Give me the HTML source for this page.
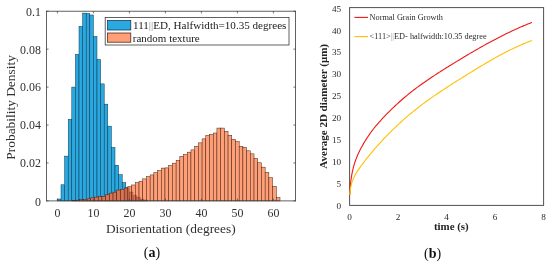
<!DOCTYPE html>
<html><head><meta charset="utf-8"><title>Figure</title>
<style>html,body{margin:0;padding:0;background:#fff;}body{width:550px;height:265px;overflow:hidden;font-family:"Liberation Serif",serif;}svg{display:block;}</style>
</head><body>
<svg width="550" height="265" viewBox="0 0 550 265">
<rect width="550" height="265" fill="#fff"/>
<g shape-rendering="auto">
<rect x="57.40" y="199.00" width="3.600" height="1.90" fill="#2aa8e0" stroke="#0a2c44" stroke-width="0.46"/>
<rect x="61.00" y="184.78" width="3.600" height="16.12" fill="#2aa8e0" stroke="#0a2c44" stroke-width="0.46"/>
<rect x="64.60" y="156.13" width="3.600" height="44.77" fill="#2aa8e0" stroke="#0a2c44" stroke-width="0.46"/>
<rect x="68.20" y="119.33" width="3.600" height="81.57" fill="#2aa8e0" stroke="#0a2c44" stroke-width="0.46"/>
<rect x="71.80" y="87.08" width="3.600" height="113.82" fill="#2aa8e0" stroke="#0a2c44" stroke-width="0.46"/>
<rect x="75.40" y="54.45" width="3.600" height="146.45" fill="#2aa8e0" stroke="#0a2c44" stroke-width="0.46"/>
<rect x="79.00" y="26.38" width="3.600" height="174.52" fill="#2aa8e0" stroke="#0a2c44" stroke-width="0.46"/>
<rect x="82.60" y="13.10" width="3.600" height="187.80" fill="#2aa8e0" stroke="#0a2c44" stroke-width="0.46"/>
<rect x="86.20" y="13.48" width="3.600" height="187.42" fill="#2aa8e0" stroke="#0a2c44" stroke-width="0.46"/>
<rect x="89.80" y="14.99" width="3.600" height="185.91" fill="#2aa8e0" stroke="#0a2c44" stroke-width="0.46"/>
<rect x="93.40" y="36.43" width="3.600" height="164.47" fill="#2aa8e0" stroke="#0a2c44" stroke-width="0.46"/>
<rect x="97.00" y="59.57" width="3.600" height="141.33" fill="#2aa8e0" stroke="#0a2c44" stroke-width="0.46"/>
<rect x="100.60" y="83.86" width="3.600" height="117.04" fill="#2aa8e0" stroke="#0a2c44" stroke-width="0.46"/>
<rect x="104.20" y="104.15" width="3.600" height="96.75" fill="#2aa8e0" stroke="#0a2c44" stroke-width="0.46"/>
<rect x="107.80" y="126.16" width="3.600" height="74.74" fill="#2aa8e0" stroke="#0a2c44" stroke-width="0.46"/>
<rect x="111.40" y="147.40" width="3.600" height="53.50" fill="#2aa8e0" stroke="#0a2c44" stroke-width="0.46"/>
<rect x="115.00" y="165.24" width="3.600" height="35.66" fill="#2aa8e0" stroke="#0a2c44" stroke-width="0.46"/>
<rect x="118.60" y="174.72" width="3.600" height="26.18" fill="#2aa8e0" stroke="#0a2c44" stroke-width="0.46"/>
<rect x="122.20" y="182.69" width="3.600" height="18.21" fill="#2aa8e0" stroke="#0a2c44" stroke-width="0.46"/>
<rect x="125.80" y="187.81" width="3.600" height="13.09" fill="#2aa8e0" stroke="#0a2c44" stroke-width="0.46"/>
<rect x="129.40" y="191.98" width="3.600" height="8.92" fill="#2aa8e0" stroke="#0a2c44" stroke-width="0.46"/>
<rect x="133.00" y="195.21" width="3.600" height="5.69" fill="#2aa8e0" stroke="#0a2c44" stroke-width="0.46"/>
<rect x="136.60" y="197.11" width="3.600" height="3.79" fill="#2aa8e0" stroke="#0a2c44" stroke-width="0.46"/>
<rect x="140.20" y="199.00" width="3.600" height="1.90" fill="#2aa8e0" stroke="#0a2c44" stroke-width="0.46"/>
<rect x="143.80" y="199.95" width="3.600" height="0.95" fill="#2aa8e0" stroke="#0a2c44" stroke-width="0.46"/>
<rect x="72.24" y="200.52" width="3.710" height="0.38" fill="#ff9f78" stroke="#3a1608" stroke-width="0.46"/>
<rect x="75.95" y="200.14" width="3.710" height="0.76" fill="#ff9f78" stroke="#3a1608" stroke-width="0.46"/>
<rect x="79.66" y="199.76" width="3.710" height="1.14" fill="#ff9f78" stroke="#3a1608" stroke-width="0.46"/>
<rect x="83.37" y="199.31" width="3.710" height="1.59" fill="#ff9f78" stroke="#3a1608" stroke-width="0.46"/>
<rect x="87.08" y="198.91" width="3.710" height="1.99" fill="#ff9f78" stroke="#3a1608" stroke-width="0.46"/>
<rect x="90.79" y="197.86" width="3.710" height="3.04" fill="#ff9f78" stroke="#3a1608" stroke-width="0.46"/>
<rect x="94.50" y="197.11" width="3.710" height="3.79" fill="#ff9f78" stroke="#3a1608" stroke-width="0.46"/>
<rect x="98.21" y="196.54" width="3.710" height="4.36" fill="#ff9f78" stroke="#3a1608" stroke-width="0.46"/>
<rect x="101.92" y="196.54" width="3.710" height="4.36" fill="#ff9f78" stroke="#3a1608" stroke-width="0.46"/>
<rect x="105.63" y="194.83" width="3.710" height="6.07" fill="#ff9f78" stroke="#3a1608" stroke-width="0.46"/>
<rect x="109.34" y="193.12" width="3.710" height="7.78" fill="#ff9f78" stroke="#3a1608" stroke-width="0.46"/>
<rect x="113.05" y="192.17" width="3.710" height="8.73" fill="#ff9f78" stroke="#3a1608" stroke-width="0.46"/>
<rect x="116.76" y="190.09" width="3.710" height="10.81" fill="#ff9f78" stroke="#3a1608" stroke-width="0.46"/>
<rect x="120.47" y="189.33" width="3.710" height="11.57" fill="#ff9f78" stroke="#3a1608" stroke-width="0.46"/>
<rect x="124.18" y="188.00" width="3.710" height="12.90" fill="#ff9f78" stroke="#3a1608" stroke-width="0.46"/>
<rect x="127.89" y="186.48" width="3.710" height="14.42" fill="#ff9f78" stroke="#3a1608" stroke-width="0.46"/>
<rect x="131.60" y="184.97" width="3.710" height="15.93" fill="#ff9f78" stroke="#3a1608" stroke-width="0.46"/>
<rect x="135.31" y="182.69" width="3.710" height="18.21" fill="#ff9f78" stroke="#3a1608" stroke-width="0.46"/>
<rect x="139.02" y="181.17" width="3.710" height="19.73" fill="#ff9f78" stroke="#3a1608" stroke-width="0.46"/>
<rect x="142.73" y="178.89" width="3.710" height="22.01" fill="#ff9f78" stroke="#3a1608" stroke-width="0.46"/>
<rect x="146.44" y="176.62" width="3.710" height="24.28" fill="#ff9f78" stroke="#3a1608" stroke-width="0.46"/>
<rect x="150.15" y="174.91" width="3.710" height="25.99" fill="#ff9f78" stroke="#3a1608" stroke-width="0.46"/>
<rect x="153.86" y="172.63" width="3.710" height="28.27" fill="#ff9f78" stroke="#3a1608" stroke-width="0.46"/>
<rect x="157.57" y="170.55" width="3.710" height="30.35" fill="#ff9f78" stroke="#3a1608" stroke-width="0.46"/>
<rect x="161.28" y="168.08" width="3.710" height="32.82" fill="#ff9f78" stroke="#3a1608" stroke-width="0.46"/>
<rect x="164.99" y="167.89" width="3.710" height="33.01" fill="#ff9f78" stroke="#3a1608" stroke-width="0.46"/>
<rect x="168.70" y="165.62" width="3.710" height="35.28" fill="#ff9f78" stroke="#3a1608" stroke-width="0.46"/>
<rect x="172.41" y="163.15" width="3.710" height="37.75" fill="#ff9f78" stroke="#3a1608" stroke-width="0.46"/>
<rect x="176.12" y="160.30" width="3.710" height="40.60" fill="#ff9f78" stroke="#3a1608" stroke-width="0.46"/>
<rect x="179.83" y="156.32" width="3.710" height="44.58" fill="#ff9f78" stroke="#3a1608" stroke-width="0.46"/>
<rect x="183.54" y="154.42" width="3.710" height="46.48" fill="#ff9f78" stroke="#3a1608" stroke-width="0.46"/>
<rect x="187.25" y="152.15" width="3.710" height="48.75" fill="#ff9f78" stroke="#3a1608" stroke-width="0.46"/>
<rect x="190.96" y="149.87" width="3.710" height="51.03" fill="#ff9f78" stroke="#3a1608" stroke-width="0.46"/>
<rect x="194.67" y="146.27" width="3.710" height="54.63" fill="#ff9f78" stroke="#3a1608" stroke-width="0.46"/>
<rect x="198.38" y="142.85" width="3.710" height="58.05" fill="#ff9f78" stroke="#3a1608" stroke-width="0.46"/>
<rect x="202.09" y="138.87" width="3.710" height="62.03" fill="#ff9f78" stroke="#3a1608" stroke-width="0.46"/>
<rect x="205.80" y="135.26" width="3.710" height="65.64" fill="#ff9f78" stroke="#3a1608" stroke-width="0.46"/>
<rect x="209.51" y="134.32" width="3.710" height="66.58" fill="#ff9f78" stroke="#3a1608" stroke-width="0.46"/>
<rect x="213.22" y="132.99" width="3.710" height="67.91" fill="#ff9f78" stroke="#3a1608" stroke-width="0.46"/>
<rect x="216.93" y="128.06" width="3.710" height="72.84" fill="#ff9f78" stroke="#3a1608" stroke-width="0.46"/>
<rect x="220.64" y="128.06" width="3.710" height="72.84" fill="#ff9f78" stroke="#3a1608" stroke-width="0.46"/>
<rect x="224.35" y="131.47" width="3.710" height="69.43" fill="#ff9f78" stroke="#3a1608" stroke-width="0.46"/>
<rect x="228.06" y="135.26" width="3.710" height="65.64" fill="#ff9f78" stroke="#3a1608" stroke-width="0.46"/>
<rect x="231.77" y="139.25" width="3.710" height="61.65" fill="#ff9f78" stroke="#3a1608" stroke-width="0.46"/>
<rect x="235.48" y="141.52" width="3.710" height="59.38" fill="#ff9f78" stroke="#3a1608" stroke-width="0.46"/>
<rect x="239.19" y="146.27" width="3.710" height="54.63" fill="#ff9f78" stroke="#3a1608" stroke-width="0.46"/>
<rect x="242.90" y="147.21" width="3.710" height="53.69" fill="#ff9f78" stroke="#3a1608" stroke-width="0.46"/>
<rect x="246.61" y="150.82" width="3.710" height="50.08" fill="#ff9f78" stroke="#3a1608" stroke-width="0.46"/>
<rect x="250.32" y="153.85" width="3.710" height="47.05" fill="#ff9f78" stroke="#3a1608" stroke-width="0.46"/>
<rect x="254.03" y="158.41" width="3.710" height="42.49" fill="#ff9f78" stroke="#3a1608" stroke-width="0.46"/>
<rect x="257.74" y="162.77" width="3.710" height="38.13" fill="#ff9f78" stroke="#3a1608" stroke-width="0.46"/>
<rect x="261.45" y="167.13" width="3.710" height="33.77" fill="#ff9f78" stroke="#3a1608" stroke-width="0.46"/>
<rect x="265.16" y="172.44" width="3.710" height="28.46" fill="#ff9f78" stroke="#3a1608" stroke-width="0.46"/>
<rect x="268.87" y="177.76" width="3.710" height="23.14" fill="#ff9f78" stroke="#3a1608" stroke-width="0.46"/>
<rect x="272.58" y="186.29" width="3.710" height="14.61" fill="#ff9f78" stroke="#3a1608" stroke-width="0.46"/>
<rect x="276.29" y="197.68" width="3.710" height="3.22" fill="#ff9f78" stroke="#3a1608" stroke-width="0.46"/>
<rect x="72.24" y="200.52" width="3.16" height="0.38" fill="rgba(130,20,0,0.31)"/>
<rect x="75.40" y="200.52" width="0.55" height="0.38" fill="rgba(130,20,0,0.31)"/>
<rect x="75.95" y="200.14" width="3.05" height="0.76" fill="rgba(130,20,0,0.31)"/>
<rect x="79.00" y="200.14" width="0.66" height="0.76" fill="rgba(130,20,0,0.31)"/>
<rect x="79.66" y="199.76" width="2.94" height="1.14" fill="rgba(130,20,0,0.31)"/>
<rect x="82.60" y="199.76" width="0.77" height="1.14" fill="rgba(130,20,0,0.31)"/>
<rect x="83.37" y="199.31" width="2.83" height="1.59" fill="rgba(130,20,0,0.31)"/>
<rect x="86.20" y="199.31" width="0.88" height="1.59" fill="rgba(130,20,0,0.31)"/>
<rect x="87.08" y="198.91" width="2.72" height="1.99" fill="rgba(130,20,0,0.31)"/>
<rect x="89.80" y="198.91" width="0.99" height="1.99" fill="rgba(130,20,0,0.31)"/>
<rect x="90.79" y="197.86" width="2.61" height="3.04" fill="rgba(130,20,0,0.31)"/>
<rect x="93.40" y="197.86" width="1.10" height="3.04" fill="rgba(130,20,0,0.31)"/>
<rect x="94.50" y="197.11" width="2.50" height="3.79" fill="rgba(130,20,0,0.31)"/>
<rect x="97.00" y="197.11" width="1.21" height="3.79" fill="rgba(130,20,0,0.31)"/>
<rect x="98.21" y="196.54" width="2.39" height="4.36" fill="rgba(130,20,0,0.31)"/>
<rect x="100.60" y="196.54" width="1.32" height="4.36" fill="rgba(130,20,0,0.31)"/>
<rect x="101.92" y="196.54" width="2.28" height="4.36" fill="rgba(130,20,0,0.31)"/>
<rect x="104.20" y="196.54" width="1.43" height="4.36" fill="rgba(130,20,0,0.31)"/>
<rect x="105.63" y="194.83" width="2.17" height="6.07" fill="rgba(130,20,0,0.31)"/>
<rect x="107.80" y="194.83" width="1.54" height="6.07" fill="rgba(130,20,0,0.31)"/>
<rect x="109.34" y="193.12" width="2.06" height="7.78" fill="rgba(130,20,0,0.31)"/>
<rect x="111.40" y="193.12" width="1.65" height="7.78" fill="rgba(130,20,0,0.31)"/>
<rect x="113.05" y="192.17" width="1.95" height="8.73" fill="rgba(130,20,0,0.31)"/>
<rect x="115.00" y="192.17" width="1.76" height="8.73" fill="rgba(130,20,0,0.31)"/>
<rect x="116.76" y="190.09" width="1.84" height="10.81" fill="rgba(130,20,0,0.31)"/>
<rect x="118.60" y="190.09" width="1.87" height="10.81" fill="rgba(130,20,0,0.31)"/>
<rect x="120.47" y="189.33" width="1.73" height="11.57" fill="rgba(130,20,0,0.31)"/>
<rect x="122.20" y="189.33" width="1.98" height="11.57" fill="rgba(130,20,0,0.31)"/>
<rect x="124.18" y="188.00" width="1.62" height="12.90" fill="rgba(130,20,0,0.31)"/>
<rect x="125.80" y="188.00" width="2.09" height="12.90" fill="rgba(130,20,0,0.31)"/>
<rect x="127.89" y="187.81" width="1.51" height="13.09" fill="rgba(130,20,0,0.31)"/>
<path d="M125.80 200.9V187.81H129.40V200.9" stroke="rgba(60,10,0,0.4)" stroke-width="0.46" fill="none"/>
<rect x="129.40" y="191.98" width="2.20" height="8.92" fill="rgba(130,20,0,0.31)"/>
<rect x="131.60" y="191.98" width="1.40" height="8.92" fill="rgba(130,20,0,0.31)"/>
<path d="M129.40 200.9V191.98H133.00V200.9" stroke="rgba(60,10,0,0.4)" stroke-width="0.46" fill="none"/>
<rect x="133.00" y="195.21" width="2.31" height="5.69" fill="rgba(130,20,0,0.31)"/>
<rect x="135.31" y="195.21" width="1.29" height="5.69" fill="rgba(130,20,0,0.31)"/>
<path d="M133.00 200.9V195.21H136.60V200.9" stroke="rgba(60,10,0,0.4)" stroke-width="0.46" fill="none"/>
<rect x="136.60" y="197.11" width="2.42" height="3.79" fill="rgba(130,20,0,0.31)"/>
<rect x="139.02" y="197.11" width="1.18" height="3.79" fill="rgba(130,20,0,0.31)"/>
<path d="M136.60 200.9V197.11H140.20V200.9" stroke="rgba(60,10,0,0.4)" stroke-width="0.46" fill="none"/>
<rect x="140.20" y="199.00" width="2.53" height="1.90" fill="rgba(130,20,0,0.31)"/>
<rect x="142.73" y="199.00" width="1.07" height="1.90" fill="rgba(130,20,0,0.31)"/>
<path d="M140.20 200.9V199.00H143.80V200.9" stroke="rgba(60,10,0,0.4)" stroke-width="0.46" fill="none"/>
<rect x="143.80" y="199.95" width="2.64" height="0.95" fill="rgba(130,20,0,0.31)"/>
<rect x="146.44" y="199.95" width="0.96" height="0.95" fill="rgba(130,20,0,0.31)"/>
<path d="M143.80 200.9V199.95H147.40V200.9" stroke="rgba(60,10,0,0.4)" stroke-width="0.46" fill="none"/>
</g>
<rect x="46.4" y="11.2" width="249.20000000000002" height="189.70000000000002" fill="none" stroke="#3a3a3a" stroke-width="0.8"/>
<path d="M57.40 200.9v-2.2M57.40 11.2v2.2" stroke="#3a3a3a" stroke-width="0.7" fill="none"/>
<path d="M93.40 200.9v-2.2M93.40 11.2v2.2" stroke="#3a3a3a" stroke-width="0.7" fill="none"/>
<path d="M129.40 200.9v-2.2M129.40 11.2v2.2" stroke="#3a3a3a" stroke-width="0.7" fill="none"/>
<path d="M165.40 200.9v-2.2M165.40 11.2v2.2" stroke="#3a3a3a" stroke-width="0.7" fill="none"/>
<path d="M201.40 200.9v-2.2M201.40 11.2v2.2" stroke="#3a3a3a" stroke-width="0.7" fill="none"/>
<path d="M237.40 200.9v-2.2M237.40 11.2v2.2" stroke="#3a3a3a" stroke-width="0.7" fill="none"/>
<path d="M273.40 200.9v-2.2M273.40 11.2v2.2" stroke="#3a3a3a" stroke-width="0.7" fill="none"/>
<path d="M46.4 200.90h2.2M295.6 200.90h-2.2" stroke="#3a3a3a" stroke-width="0.7" fill="none"/>
<path d="M46.4 162.96h2.2M295.6 162.96h-2.2" stroke="#3a3a3a" stroke-width="0.7" fill="none"/>
<path d="M46.4 125.02h2.2M295.6 125.02h-2.2" stroke="#3a3a3a" stroke-width="0.7" fill="none"/>
<path d="M46.4 87.08h2.2M295.6 87.08h-2.2" stroke="#3a3a3a" stroke-width="0.7" fill="none"/>
<path d="M46.4 49.14h2.2M295.6 49.14h-2.2" stroke="#3a3a3a" stroke-width="0.7" fill="none"/>
<path d="M46.4 11.20h2.2M295.6 11.20h-2.2" stroke="#3a3a3a" stroke-width="0.7" fill="none"/>
<g font-family="Liberation Serif, serif" font-size="11.9" fill="#303030">
<text x="57.40" y="217.2" text-anchor="middle">0</text>
<text x="93.40" y="217.2" text-anchor="middle">10</text>
<text x="129.40" y="217.2" text-anchor="middle">20</text>
<text x="165.40" y="217.2" text-anchor="middle">30</text>
<text x="201.40" y="217.2" text-anchor="middle">40</text>
<text x="237.40" y="217.2" text-anchor="middle">50</text>
<text x="273.40" y="217.2" text-anchor="middle">60</text>
<text x="40.9" y="205.90" text-anchor="end">0</text>
<text x="40.9" y="167.36" text-anchor="end">0.02</text>
<text x="40.9" y="129.42" text-anchor="end">0.04</text>
<text x="40.9" y="91.48" text-anchor="end">0.06</text>
<text x="40.9" y="53.54" text-anchor="end">0.08</text>
<text x="40.9" y="15.60" text-anchor="end">0.1</text>
</g>
<text x="170.8" y="232.5" text-anchor="middle" font-family="Liberation Serif, serif" font-size="13.4" fill="#303030">Disorientation (degrees)</text>
<text transform="translate(15 107.4) rotate(-90)" text-anchor="middle" font-family="Liberation Serif, serif" font-size="13.4" fill="#303030">Probability Density</text>
<rect x="105.2" y="17.4" width="183.8" height="27.6" fill="#fff" stroke="#3a3a3a" stroke-width="0.8"/>
<rect x="107.6" y="20.5" width="23.2" height="9.5" fill="#2aa8e0" stroke="#0a2c44" stroke-width="0.7"/>
<rect x="107.6" y="33.0" width="23.2" height="9.2" fill="#ff9f78" stroke="#3a1608" stroke-width="0.7"/>
<g font-family="Liberation Serif, serif" font-size="11" fill="#1a1a1a">
<text x="133" y="28.9" textLength="153.4" lengthAdjust="spacingAndGlyphs">111<tspan fill="#8c8c8c">||</tspan>ED, Halfwidth=10.35 degrees</text>
<text x="132.8" y="41.5">random texture</text>
</g>
<text x="151.9" y="256.9" text-anchor="middle" font-family="Liberation Serif, serif" font-size="14" fill="#111">(<tspan font-weight="bold">a</tspan>)</text>
<rect x="349.6" y="7.6" width="194.0" height="197.8" fill="none" stroke="#505050" stroke-width="1"/>
<path d="M349.80 194.50L350.15 188.26L350.50 184.18L350.86 181.01L351.21 178.38L351.56 176.12L351.91 174.11L352.26 172.30L352.61 170.65L352.97 169.13L353.32 167.72L353.67 166.40L354.02 165.16L354.37 163.98L354.72 162.86L355.08 161.79L355.43 160.77L355.78 159.79L356.13 158.85L356.48 157.94L356.83 157.06L357.19 156.20L357.54 155.37L357.89 154.57L358.24 153.78L358.59 153.01L358.94 152.26L359.30 151.53L359.65 150.81L360.00 150.10L360.50 149.12L361.94 146.43L363.37 143.89L364.81 141.47L366.25 139.15L367.68 136.94L369.12 134.82L370.56 132.79L372.00 130.85L373.43 128.99L374.87 127.20L376.31 125.47L377.74 123.79L379.18 122.15L380.62 120.55L382.05 118.98L383.49 117.44L384.93 115.93L386.37 114.45L387.80 112.99L389.24 111.55L390.68 110.13L392.11 108.73L393.55 107.35L394.99 105.99L396.42 104.65L397.86 103.33L399.30 102.02L400.74 100.74L402.17 99.48L403.61 98.24L405.05 97.01L406.48 95.81L407.92 94.62L409.36 93.45L410.79 92.30L412.23 91.17L413.67 90.06L415.11 88.96L416.54 87.88L417.98 86.82L419.42 85.77L420.85 84.73L422.29 83.70L423.73 82.68L425.16 81.68L426.60 80.69L428.04 79.70L429.47 78.73L430.91 77.76L432.35 76.80L433.79 75.85L435.22 74.91L436.66 73.97L438.10 73.04L439.53 72.12L440.97 71.20L442.41 70.29L443.84 69.39L445.28 68.48L446.72 67.59L448.16 66.69L449.59 65.80L451.03 64.92L452.47 64.03L453.90 63.15L455.34 62.27L456.78 61.40L458.21 60.53L459.65 59.66L461.09 58.79L462.53 57.92L463.96 57.06L465.40 56.20L466.84 55.34L468.27 54.49L469.71 53.64L471.15 52.79L472.58 51.95L474.02 51.11L475.46 50.28L476.89 49.45L478.33 48.62L479.77 47.80L481.21 46.99L482.64 46.18L484.08 45.37L485.52 44.58L486.95 43.78L488.39 43.00L489.83 42.21L491.26 41.44L492.70 40.67L494.14 39.91L495.58 39.15L497.01 38.40L498.45 37.66L499.89 36.92L501.32 36.19L502.76 35.47L504.20 34.76L505.63 34.05L507.07 33.35L508.51 32.65L509.95 31.97L511.38 31.29L512.82 30.62L514.26 29.95L515.69 29.30L517.13 28.65L518.57 28.01L520.00 27.37L521.44 26.75L522.88 26.13L524.32 25.53L525.75 24.93L527.19 24.33L528.63 23.75L530.06 23.17L531.50 22.61" fill="none" stroke="#f01818" stroke-width="1.1" stroke-linecap="round" stroke-linejoin="round"/>
<path d="M349.80 194.49L350.15 190.81L350.50 188.41L350.86 186.55L351.21 185.01L351.56 183.67L351.91 182.48L352.26 181.41L352.61 180.43L352.97 179.52L353.32 178.67L353.67 177.87L354.02 177.11L354.37 176.39L354.72 175.70L355.08 175.04L355.43 174.40L355.78 173.78L356.13 173.18L356.48 172.60L356.83 172.03L357.19 171.47L357.54 170.93L357.89 170.40L358.24 169.87L358.59 169.36L358.94 168.85L359.30 168.35L359.65 167.85L360.00 167.36L360.50 166.67L361.94 164.74L363.37 162.84L364.81 160.98L366.25 159.15L367.68 157.34L369.12 155.57L370.56 153.82L372.00 152.09L373.43 150.39L374.87 148.72L376.31 147.07L377.74 145.45L379.18 143.84L380.62 142.26L382.05 140.71L383.49 139.17L384.93 137.65L386.37 136.16L387.80 134.68L389.24 133.23L390.68 131.79L392.11 130.37L393.55 128.97L394.99 127.59L396.42 126.23L397.86 124.88L399.30 123.55L400.74 122.24L402.17 120.94L403.61 119.66L405.05 118.40L406.48 117.15L407.92 115.92L409.36 114.70L410.79 113.50L412.23 112.32L413.67 111.15L415.11 109.99L416.54 108.85L417.98 107.72L419.42 106.61L420.85 105.51L422.29 104.42L423.73 103.35L425.16 102.29L426.60 101.24L428.04 100.21L429.47 99.18L430.91 98.16L432.35 97.15L433.79 96.16L435.22 95.16L436.66 94.18L438.10 93.21L439.53 92.24L440.97 91.28L442.41 90.32L443.84 89.37L445.28 88.43L446.72 87.49L448.16 86.56L449.59 85.63L451.03 84.71L452.47 83.79L453.90 82.87L455.34 81.96L456.78 81.05L458.21 80.15L459.65 79.25L461.09 78.35L462.53 77.45L463.96 76.55L465.40 75.66L466.84 74.77L468.27 73.88L469.71 72.99L471.15 72.11L472.58 71.22L474.02 70.34L475.46 69.46L476.89 68.58L478.33 67.71L479.77 66.84L481.21 65.98L482.64 65.12L484.08 64.26L485.52 63.41L486.95 62.57L488.39 61.73L489.83 60.90L491.26 60.07L492.70 59.25L494.14 58.44L495.58 57.64L497.01 56.85L498.45 56.06L499.89 55.28L501.32 54.51L502.76 53.75L504.20 53.00L505.63 52.25L507.07 51.52L508.51 50.79L509.95 50.08L511.38 49.38L512.82 48.68L514.26 48.00L515.69 47.33L517.13 46.67L518.57 46.01L520.00 45.37L521.44 44.75L522.88 44.13L524.32 43.53L525.75 42.93L527.19 42.35L528.63 41.78L530.06 41.23L531.50 40.68" fill="none" stroke="#ffc000" stroke-width="1.1" stroke-linecap="round" stroke-linejoin="round"/>
<g font-family="Liberation Serif, serif" font-size="9.2" fill="#2a2a2a">
<text x="341.2" y="208.70" text-anchor="end">0</text>
<text x="341.2" y="186.80" text-anchor="end">5</text>
<text x="341.2" y="164.90" text-anchor="end">10</text>
<text x="341.2" y="143.00" text-anchor="end">15</text>
<text x="341.2" y="121.10" text-anchor="end">20</text>
<text x="341.2" y="99.20" text-anchor="end">25</text>
<text x="341.2" y="77.30" text-anchor="end">30</text>
<text x="341.2" y="55.40" text-anchor="end">35</text>
<text x="341.2" y="33.50" text-anchor="end">40</text>
<text x="341.2" y="11.60" text-anchor="end">45</text>
<text x="349.60" y="220.2" text-anchor="middle">0</text>
<text x="398.10" y="220.2" text-anchor="middle">2</text>
<text x="446.60" y="220.2" text-anchor="middle">4</text>
<text x="495.10" y="220.2" text-anchor="middle">6</text>
<text x="543.60" y="220.2" text-anchor="middle">8</text>
</g>
<text x="451.3" y="230" text-anchor="middle" font-family="Liberation Serif, serif" font-weight="bold" font-size="10.9" fill="#222">time (s)</text>
<text transform="translate(327 106.3) rotate(-90)" text-anchor="middle" font-family="Liberation Serif, serif" font-weight="bold" font-size="11" fill="#222">Average 2D diameter (μm)</text>
<path d="M354.4 17.4H368" stroke="#f01818" stroke-width="1.1"/>
<path d="M354.4 36.6H368" stroke="#ffc000" stroke-width="1.1"/>
<g font-family="Liberation Serif, serif" font-size="8.27" fill="#2a2a2a">
<text x="369.6" y="20.2" textLength="73.4" lengthAdjust="spacingAndGlyphs">Normal Grain Growth</text>
<text x="369.6" y="39.4" textLength="117" lengthAdjust="spacingAndGlyphs">&lt;111&gt;<tspan fill="#9a9a9a">||</tspan>ED- halfwidth:10.35 degree</text>
</g>
<text x="432.6" y="257.6" text-anchor="middle" font-family="Liberation Serif, serif" font-size="14" fill="#111">(<tspan font-weight="bold">b</tspan>)</text>
</svg>
</body></html>
